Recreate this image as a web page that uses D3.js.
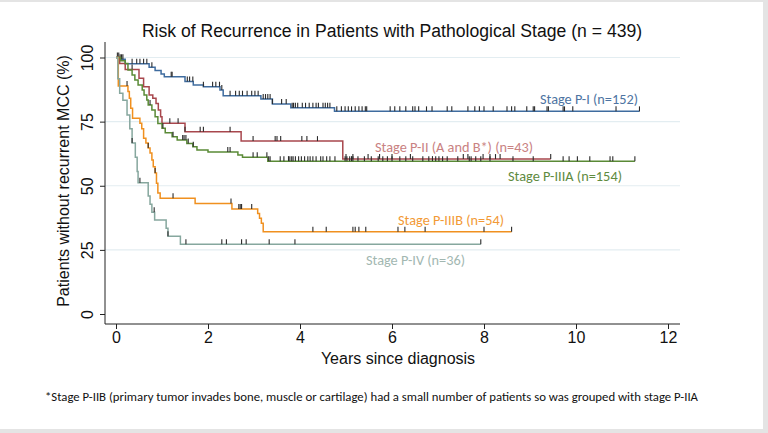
<!DOCTYPE html>
<html>
<head>
<meta charset="utf-8">
<script src="https://cdn.jsdelivr.net/npm/d3@7"></script>
<style>
  body { margin: 0; background: #fff; }
  svg { display: block; }
</style>
</head>
<body>
<div id="chart-area"></div>
<script>
// Kaplan-Meier curves: step times (years) and survival (%)
var stageNames = ["Stage P-I (n=152)", "Stage P-II (A and B*) (n=43)", "Stage P-IIIA (n=154)",
    "Stage P-IIIB (n=54)", "Stage P-IV (n=36)"];

var pITimes = [0, 0.08, 0.2, 0.72, 0.85, 0.98, 1.05, 1.5, 1.68, 1.9, 2.26, 2.33, 3.15, 3.4, 3.8, 4.75, 11.38];
var pISurv = [100, 99.3, 97.6, 96.2, 94.9, 93.6, 92.5, 90.6, 89.3, 88.6, 87.3, 85.1, 83.8, 81.9, 80.4, 79.0, 79.0];
var pICens = [0.03, 0.06, 0.09, 0.12, 0.15, 0.35, 0.45, 0.52, 0.6, 0.67, 0.78, 1.2, 1.22, 1.55, 1.6, 1.67, 1.9,
    2.1, 2.17, 2.25, 2.3, 2.48, 2.6, 2.68, 2.75, 2.85, 2.95, 3.02, 3.09, 3.2, 3.25, 3.3, 3.35, 3.4, 3.6, 3.7,
    3.83, 3.86, 3.9, 3.95, 4.05, 4.12, 4.2, 4.28, 4.35, 4.4, 4.5, 4.55, 4.6, 4.65, 4.8, 4.9, 4.98, 5.05, 5.12,
    5.2, 5.28, 5.35, 5.42, 5.45, 5.96, 6.06, 6.17, 6.3, 6.45, 6.5, 6.58, 6.75, 6.87, 7.2, 7.3, 7.65, 7.8, 7.9,
    8.0, 8.2, 8.5, 8.6, 8.67, 8.93, 9.07, 9.1, 9.37, 9.4, 9.72, 9.75, 9.93, 10.87, 11.38];

var pIITimes = [0, 0.08, 0.2, 0.5, 0.6, 0.72, 0.8, 0.87, 0.92, 0.97, 1.0, 1.5, 2.72, 4.93, 9.45];
var pIISurv = [100, 97.7, 95.3, 91.9, 88.6, 85.4, 84.1, 82.1, 79.5, 76.9, 74.4, 71.1, 67.4, 60.4, 60.4];
var pIICens = [0.35, 1.17, 1.35, 1.5, 1.83, 1.9, 2.48, 2.98, 3.46, 3.5, 3.58, 4.04, 4.15, 4.38, 5.0, 5.15,
    5.48, 5.73, 6.0, 6.4, 7.55, 7.65, 7.98, 8.13, 8.25, 8.35, 9.45];

var pIIIATimes = [0, 0.1, 0.2, 0.26, 0.35, 0.41, 0.48, 0.57, 0.61, 0.67, 0.7, 0.78, 0.85, 0.91, 1.0, 1.07,
    1.22, 1.33, 1.54, 1.67, 1.76, 2.0, 2.65, 2.75, 3.3, 11.28];
var pIIIASurv = [100, 98.7, 97.7, 95.1, 93.2, 91.2, 89.3, 87.3, 85.4, 83.4, 81.5, 79.5, 76.9, 74.3, 72.4, 70.7,
    69.1, 67.8, 66.5, 65.2, 63.9, 63.2, 62.0, 61.1, 59.6, 59.6];
var pIIIACens = [0.74, 1.02, 1.24, 1.45, 1.48, 1.52, 1.57, 1.68, 2.43, 2.48, 2.98, 3.07, 3.28, 3.32, 3.35,
    3.57, 3.65, 3.75, 3.78, 3.82, 3.85, 3.9, 3.97, 4.03, 4.1, 4.17, 4.22, 4.28, 4.35, 4.45, 4.5, 4.58, 4.65,
    4.76, 4.98, 5.02, 5.08, 5.12, 5.15, 5.26, 5.4, 5.55, 5.7, 5.8, 5.9, 6.0, 6.17, 6.3, 6.45, 6.67, 6.8, 6.88,
    6.95, 7.02, 7.1, 7.2, 7.43, 7.68, 7.72, 7.82, 7.93, 8.13, 8.63, 9.07, 9.72, 9.85, 10.03, 10.3, 10.74, 10.8,
    11.28];

var pIIIBTimes = [0, 0.05, 0.26, 0.29, 0.32, 0.36, 0.52, 0.56, 0.6, 0.65, 0.7, 0.74, 0.78, 0.81, 0.85, 0.88,
    0.91, 0.96, 1.72, 2.52, 3.08, 3.12, 3.16, 3.2, 8.6];
var pIIIBSurv = [100, 88.9, 86.7, 84.1, 80.2, 76.3, 74.4, 72.2, 68.5, 66.7, 64.7, 62.8, 60.0, 57.4, 55.0, 51.0,
    47.2, 45.1, 43.1, 40.9, 39.2, 37.3, 35.4, 32.1, 32.1];
var pIIIBCens = [0.24, 0.7, 0.85, 1.24, 2.5, 2.67, 2.7, 2.73, 2.95, 4.28, 4.57, 5.15, 5.2, 5.28, 5.43, 6.13,
    6.28, 6.72, 8.0, 8.6];

var pIVTimes = [0, 0.04, 0.08, 0.15, 0.24, 0.3, 0.35, 0.42, 0.46, 0.48, 0.7, 0.74, 0.78, 0.84, 1.09, 1.13, 1.4, 7.93];
var pIVSurv = [100, 91.7, 86.1, 83.3, 77.6, 72.2, 66.7, 61.1, 55.6, 51.2, 46.0, 42.8, 39.7, 36.6, 33.4, 30.3, 27.2, 27.2];
var pIVCens = [0.35, 0.52, 0.83, 1.13, 1.52, 2.3, 2.4, 2.73, 2.83, 3.33, 3.89, 7.93];

var xTicks = [0, 2, 4, 6, 8, 10, 12];
var yTicks = [0, 25, 50, 75, 100];

var width = 768, height = 433;

var svg = d3.select("#chart-area")
    .append("svg")
    .attr("width", width)
    .attr("height", height);

// light frame of the original slide
svg.append("rect").attr("width", width).attr("height", height).attr("fill", "#e4e4e4");
svg.append("rect").attr("x", 0).attr("y", 2).attr("width", 763).attr("height", 427).attr("fill", "#fff");

var x = d3.scaleLinear().domain([0, 12]).range([116, 668]);
var y = d3.scaleLinear().domain([0, 100]).range([314, 57.5]);

var plotLeft = 105, plotRight = 680, plotTop = 42, plotBottom = 324;
var axisFont = "'Liberation Sans', Arial, Helvetica, sans-serif";
var noteFont = "Carlito, Calibri, 'Open Sans', sans-serif";

// gridlines
svg.append("g")
    .selectAll("line")
    .data(yTicks.filter(function (d) { return d > 0; }))
    .enter()
    .append("line")
    .attr("x1", plotLeft)
    .attr("x2", plotRight)
    .attr("y1", function (d) { return y(d); })
    .attr("y2", function (d) { return y(d); })
    .attr("stroke", "#e3edf1")
    .attr("stroke-width", 1.2);

// Y axis
var yAxis = svg.append("g")
    .attr("transform", "translate(" + plotLeft + ",0)")
    .call(d3.axisLeft(y).tickValues(yTicks).tickSize(5).tickPadding(0));
yAxis.select(".domain").remove();
yAxis.selectAll(".tick line").attr("stroke", "#222");
yAxis.selectAll("text")
    .attr("x", 0)
    .attr("y", -12)
    .attr("dy", 0)
    .attr("text-anchor", "middle")
    .attr("transform", "rotate(-90)")
    .attr("font-family", axisFont)
    .attr("font-size", "16px")
    .attr("fill", "#111");
svg.append("line")
    .attr("x1", plotLeft).attr("x2", plotLeft)
    .attr("y1", plotTop).attr("y2", plotBottom)
    .attr("stroke", "#222");

// X axis
var xAxis = svg.append("g")
    .attr("transform", "translate(0," + plotBottom + ")")
    .call(d3.axisBottom(x).tickValues(xTicks).tickSize(5).tickPadding(3));
xAxis.select(".domain").remove();
xAxis.selectAll(".tick line").attr("stroke", "#222");
xAxis.selectAll("text")
    .attr("font-family", axisFont)
    .attr("font-size", "16px")
    .attr("fill", "#111");
svg.append("line")
    .attr("x1", plotLeft).attr("x2", plotRight)
    .attr("y1", plotBottom).attr("y2", plotBottom)
    .attr("stroke", "#222");

// Titles
svg.append("text")
    .attr("x", 392)
    .attr("y", 37)
    .attr("text-anchor", "middle")
    .attr("font-family", axisFont)
    .attr("font-size", "17.6px")
    .attr("fill", "#111")
    .text("Risk of Recurrence in Patients with Pathological Stage (n = 439)");

svg.append("text")
    .attr("x", 398)
    .attr("y", 364)
    .attr("text-anchor", "middle")
    .attr("font-family", axisFont)
    .attr("font-size", "16px")
    .attr("fill", "#111")
    .text("Years since diagnosis");

svg.append("text")
    .attr("x", -181)
    .attr("y", 69)
    .attr("text-anchor", "middle")
    .attr("transform", "rotate(-90)")
    .attr("font-family", axisFont)
    .attr("font-size", "16px")
    .attr("fill", "#111")
    .text("Patients without recurrent MCC (%)");

// curves
var series = [
    { name: stageNames[0], t: pITimes, s: pISurv, c: pICens, color: "#3f6c9f", label: "#4d74a2", lx: 540, ly: 104, lw: 98 },
    { name: stageNames[1], t: pIITimes, s: pIISurv, c: pIICens, color: "#a8474d", label: "#c98282", lx: 375, ly: 152, lw: 158 },
    { name: stageNames[2], t: pIIIATimes, s: pIIIASurv, c: pIIIACens, color: "#5a8a36", label: "#5f8b3f", lx: 508, ly: 181, lw: 114 },
    { name: stageNames[3], t: pIIIBTimes, s: pIIIBSurv, c: pIIIBCens, color: "#f0901f", label: "#f29a36", lx: 398, ly: 225, lw: 106 },
    { name: stageNames[4], t: pIVTimes, s: pIVSurv, c: pIVCens, color: "#86a79e", label: "#a2b7b1", lx: 366, ly: 265, lw: 99 }
];

var line = d3.line()
    .x(function (d) { return x(d[0]); })
    .y(function (d) { return y(d[1]); })
    .curve(d3.curveStepAfter);

var bisect = d3.bisector(function (d) { return d; }).right;

series.forEach(function (sr) {
    var pts = sr.t.map(function (t, i) { return [t, sr.s[i]]; });
    svg.append("path")
        .datum(pts)
        .attr("fill", "none")
        .attr("stroke", sr.color)
        .attr("stroke-width", 1.5)
        .attr("d", line);

    svg.append("g")
        .selectAll("line")
        .data(sr.c)
        .enter()
        .append("line")
        .attr("x1", function (d) { return x(d); })
        .attr("x2", function (d) { return x(d); })
        .attr("y1", function (d) { return y(sr.s[Math.max(0, bisect(sr.t, d) - 1)]); })
        .attr("y2", function (d) { return y(sr.s[Math.max(0, bisect(sr.t, d) - 1)]) - 5; })
        .attr("stroke", "#2a2a2a")
        .attr("stroke-width", 1.1);

    svg.append("text")
        .attr("x", sr.lx)
        .attr("y", sr.ly)
        .attr("font-family", noteFont)
        .attr("font-size", "14px")
        .attr("fill", sr.label)
        .attr("textLength", sr.lw)
        .attr("lengthAdjust", "spacingAndGlyphs")
        .text(sr.name);
});

// footnote
svg.append("text")
    .attr("x", 45)
    .attr("y", 401)
    .attr("font-family", noteFont)
    .attr("font-size", "12.5px")
    .attr("fill", "#111")
    .attr("textLength", 653)
    .attr("lengthAdjust", "spacingAndGlyphs")
    .text("*Stage P-IIB (primary tumor invades bone, muscle or cartilage) had a small number of patients so was grouped with stage P-IIA");
</script>
</body>
</html>
